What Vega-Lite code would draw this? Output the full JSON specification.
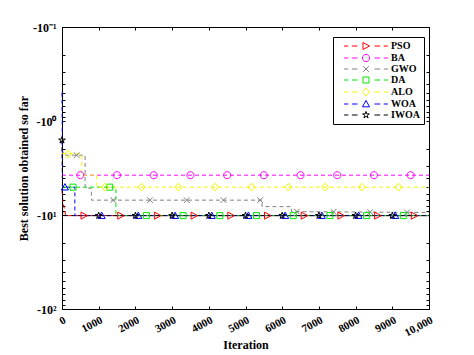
{
  "$schema": "https://vega.github.io/schema/vega-lite/v6.json",
  "width": 367,
  "height": 282,
  "autosize": {"type": "none"},
  "padding": {"left": 62, "top": 27, "right": 45, "bottom": 46},
  "background": "white",
  "config": {
    "view": {"stroke": "black", "strokeWidth": 1},
    "font": "Liberation Serif",
    "axis": {
      "domainColor": "black", "tickColor": "black", "labelColor": "black", "titleColor": "black",
      "labelFont": "Liberation Serif", "titleFont": "Liberation Serif",
      "labelFontWeight": "bold", "titleFontWeight": "bold", "grid": false, "tickWidth": 1, "domainWidth": 1
    }
  },
  "datasets": {
    "lines": [
      {"a": "PSO", "t": 0, "v": -5.5, "k": 1},
      {"a": "PSO", "t": 20, "v": -7.0, "k": 2},
      {"a": "PSO", "t": 100, "v": -10.1532, "k": 3},
      {"a": "PSO", "t": 10000, "v": -10.1532, "k": 4},
      {"a": "BA", "t": 0, "v": -3.77, "k": 5},
      {"a": "BA", "t": 10000, "v": -3.77, "k": 6},
      {"a": "GWO", "t": 0, "v": -2.0, "k": 7},
      {"a": "GWO", "t": 60, "v": -2.31, "k": 8},
      {"a": "GWO", "t": 630, "v": -2.31, "k": 9},
      {"a": "GWO", "t": 630, "v": -5.17, "k": 10},
      {"a": "GWO", "t": 800, "v": -5.17, "k": 11},
      {"a": "GWO", "t": 800, "v": -6.95, "k": 12},
      {"a": "GWO", "t": 5450, "v": -6.95, "k": 13},
      {"a": "GWO", "t": 5450, "v": -8.15, "k": 14},
      {"a": "GWO", "t": 6250, "v": -8.15, "k": 15},
      {"a": "GWO", "t": 6250, "v": -9.2, "k": 16},
      {"a": "GWO", "t": 10000, "v": -9.4, "k": 17},
      {"a": "DA", "t": 0, "v": -5.0552, "k": 18},
      {"a": "DA", "t": 1470, "v": -5.0552, "k": 19},
      {"a": "DA", "t": 1470, "v": -10.1532, "k": 20},
      {"a": "DA", "t": 10000, "v": -10.1532, "k": 21},
      {"a": "ALO", "t": 0, "v": -2.2, "k": 22},
      {"a": "ALO", "t": 540, "v": -2.25, "k": 23},
      {"a": "ALO", "t": 540, "v": -3.77, "k": 24},
      {"a": "ALO", "t": 950, "v": -3.77, "k": 25},
      {"a": "ALO", "t": 950, "v": -5.0552, "k": 26},
      {"a": "ALO", "t": 10000, "v": -5.0552, "k": 27},
      {"a": "WOA", "t": 0, "v": -0.5, "k": 28},
      {"a": "WOA", "t": 15, "v": -5.0552, "k": 29},
      {"a": "WOA", "t": 350, "v": -5.0552, "k": 30},
      {"a": "WOA", "t": 350, "v": -10.1532, "k": 31},
      {"a": "WOA", "t": 10000, "v": -10.1532, "k": 32},
      {"a": "IWOA", "t": 0, "v": -1.6, "k": 33},
      {"a": "IWOA", "t": 20, "v": -10.1532, "k": 34},
      {"a": "IWOA", "t": 10000, "v": -10.1532, "k": 35}
    ],
    "marks": [
      {"a": "PSO", "t": 600, "v": -10.1532}, {"a": "PSO", "t": 1600, "v": -10.1532}, {"a": "PSO", "t": 2600, "v": -10.1532},
      {"a": "PSO", "t": 3600, "v": -10.1532}, {"a": "PSO", "t": 4600, "v": -10.1532}, {"a": "PSO", "t": 5600, "v": -10.1532},
      {"a": "PSO", "t": 6600, "v": -10.1532}, {"a": "PSO", "t": 7600, "v": -10.1532}, {"a": "PSO", "t": 8600, "v": -10.1532},
      {"a": "PSO", "t": 9600, "v": -10.1532},
      {"a": "BA", "t": 500, "v": -3.77}, {"a": "BA", "t": 1500, "v": -3.77}, {"a": "BA", "t": 2500, "v": -3.77},
      {"a": "BA", "t": 3500, "v": -3.77}, {"a": "BA", "t": 4500, "v": -3.77}, {"a": "BA", "t": 5500, "v": -3.77},
      {"a": "BA", "t": 6500, "v": -3.77}, {"a": "BA", "t": 7500, "v": -3.77}, {"a": "BA", "t": 8500, "v": -3.77},
      {"a": "BA", "t": 9500, "v": -3.77},
      {"a": "GWO", "t": 400, "v": -2.31}, {"a": "GWO", "t": 1400, "v": -6.95}, {"a": "GWO", "t": 2400, "v": -6.95},
      {"a": "GWO", "t": 3400, "v": -6.95}, {"a": "GWO", "t": 4400, "v": -6.95}, {"a": "GWO", "t": 5400, "v": -6.95},
      {"a": "GWO", "t": 6400, "v": -9.21}, {"a": "GWO", "t": 7400, "v": -9.26}, {"a": "GWO", "t": 8400, "v": -9.31},
      {"a": "GWO", "t": 9400, "v": -9.37},
      {"a": "DA", "t": 300, "v": -5.0552}, {"a": "DA", "t": 1300, "v": -5.0552}, {"a": "DA", "t": 2300, "v": -10.1532},
      {"a": "DA", "t": 3300, "v": -10.1532}, {"a": "DA", "t": 4300, "v": -10.1532}, {"a": "DA", "t": 5300, "v": -10.1532},
      {"a": "DA", "t": 6300, "v": -10.1532}, {"a": "DA", "t": 7300, "v": -10.1532}, {"a": "DA", "t": 8300, "v": -10.1532},
      {"a": "DA", "t": 9300, "v": -10.1532},
      {"a": "ALO", "t": 170, "v": -2.25}, {"a": "ALO", "t": 1170, "v": -5.0552}, {"a": "ALO", "t": 2170, "v": -5.0552},
      {"a": "ALO", "t": 3170, "v": -5.0552}, {"a": "ALO", "t": 4170, "v": -5.0552}, {"a": "ALO", "t": 5170, "v": -5.0552},
      {"a": "ALO", "t": 6170, "v": -5.0552}, {"a": "ALO", "t": 7170, "v": -5.0552}, {"a": "ALO", "t": 8170, "v": -5.0552},
      {"a": "ALO", "t": 9170, "v": -5.0552},
      {"a": "WOA", "t": 80, "v": -5.0552}, {"a": "WOA", "t": 1080, "v": -10.1532}, {"a": "WOA", "t": 2080, "v": -10.1532},
      {"a": "WOA", "t": 3080, "v": -10.1532}, {"a": "WOA", "t": 4080, "v": -10.1532}, {"a": "WOA", "t": 5080, "v": -10.1532},
      {"a": "WOA", "t": 6080, "v": -10.1532}, {"a": "WOA", "t": 7080, "v": -10.1532}, {"a": "WOA", "t": 8080, "v": -10.1532},
      {"a": "WOA", "t": 9080, "v": -10.1532},
      {"a": "IWOA", "t": 0, "v": -1.6}, {"a": "IWOA", "t": 1000, "v": -10.1532}, {"a": "IWOA", "t": 2000, "v": -10.1532},
      {"a": "IWOA", "t": 3000, "v": -10.1532}, {"a": "IWOA", "t": 4000, "v": -10.1532}, {"a": "IWOA", "t": 5000, "v": -10.1532},
      {"a": "IWOA", "t": 6000, "v": -10.1532}, {"a": "IWOA", "t": 7000, "v": -10.1532}, {"a": "IWOA", "t": 8000, "v": -10.1532},
      {"a": "IWOA", "t": 9000, "v": -10.1532}
    ]
  },
  "resolve": {
    "scale": {"color": "independent", "shape": "independent"},
    "axis": {"x": "independent", "y": "independent"}
  },
  "layer": [
    {
      "data": {"name": "lines"},
      "mark": {"type": "line", "strokeDash": [4, 3], "strokeWidth": 1},
      "encoding": {
        "x": {
          "field": "t", "type": "quantitative",
          "scale": {"domain": [0, 10000], "nice": false},
          "axis": {
            "orient": "bottom", "values": [0, 1000, 2000, 3000, 4000, 5000, 6000, 7000, 8000, 9000, 10000],
            "labelExpr": "datum.value == 10000 ? '10,000' : format(datum.value, 'd')",
            "labelAngle": -28, "labelAlign": "right", "labelBaseline": "top", "labelDx": 4,
            "labelFontSize": 11, "tickSize": -3, "labelPadding": 8,
            "title": "Iteration", "titleFontSize": 12, "titlePadding": 2
          }
        },
        "y": {
          "field": "v", "type": "quantitative",
          "scale": {"type": "log", "domain": [-100, -0.1], "nice": false},
          "axis": {
            "orient": "left",
            "values": [-100, -90, -80, -70, -60, -50, -40, -30, -20, -10, -9, -8, -7, -6, -5, -4, -3, -2, -1, -0.9, -0.8, -0.7, -0.6, -0.5, -0.4, -0.3, -0.2, -0.1],
            "labelExpr": "datum.value == -100 ? '-10²' : datum.value == -10 ? '-10¹' : datum.value == -1 ? '-10⁰' : datum.value == -0.1 ? '-10⁻¹' : ''",
            "labelFontSize": 12, "tickSize": -3, "labelPadding": 9,
            "title": "Best solution obtained so far", "titleFontSize": 12, "titlePadding": 2
          }
        },
        "color": {
          "field": "a", "type": "nominal",
          "scale": {"domain": ["PSO", "BA", "GWO", "DA", "ALO", "WOA", "IWOA"],
                    "range": ["#FF0000", "#FF00FF", "#808080", "#00E600", "#F5F500", "#0000FF", "#000000"]},
          "legend": null
        },
        "order": {"field": "k", "type": "quantitative"}
      }
    },
    {
      "data": {"name": "marks"},
      "mark": {"type": "point", "filled": false, "size": 50, "strokeWidth": 1, "opacity": 1},
      "encoding": {
        "x": {
          "field": "t", "type": "quantitative",
          "axis": {"orient": "top", "values": [0, 1000, 2000, 3000, 4000, 5000, 6000, 7000, 8000, 9000, 10000], "labels": false, "tickSize": -3, "title": null}
        },
        "y": {
          "field": "v", "type": "quantitative",
          "axis": {
            "orient": "right",
            "values": [-100, -90, -80, -70, -60, -50, -40, -30, -20, -10, -9, -8, -7, -6, -5, -4, -3, -2, -1, -0.9, -0.8, -0.7, -0.6, -0.5, -0.4, -0.3, -0.2, -0.1],
            "labels": false, "tickSize": -3, "title": null
          }
        },
        "color": {
          "field": "a", "type": "nominal",
          "scale": {"domain": ["PSO", "BA", "GWO", "DA", "ALO", "WOA", "IWOA"],
                    "range": ["#FF0000", "#FF00FF", "#808080", "#00E600", "#F5F500", "#0000FF", "#000000"]},
          "legend": null
        },
        "shape": {
          "field": "a", "type": "nominal",
          "scale": {"domain": ["PSO", "BA", "GWO", "DA", "ALO", "WOA", "IWOA"],
                    "range": [
                      "M-0.85,-1L1,0L-0.85,1Z",
                      "M1,0A1,1,0,1,1,-1,0A1,1,0,1,1,1,0Z",
                      "M-0.8,-0.8L0.8,0.8M-0.8,0.8L0.8,-0.8",
                      "M-0.85,-0.85H0.85V0.85H-0.85Z",
                      "M0,-1.1L1,0L0,1.1L-1,0Z",
                      "M0,-1L1,0.8H-1Z",
                      "M0,-1L0.2234,-0.3074L0.9511,-0.309L0.3614,0.1174L0.5878,0.809L0,0.38L-0.5878,0.809L-0.3614,0.1174L-0.9511,-0.309L-0.2234,-0.3074Z"
                    ]},
          "legend": null
        }
      }
    },
    {
      "data": {"name": "marks"},
      "mark": {"type": "point", "filled": false, "size": 50, "strokeWidth": 1, "opacity": 0},
      "encoding": {
        "x": {"field": "t", "type": "quantitative", "axis": null},
        "y": {"field": "v", "type": "quantitative", "axis": null},
        "color": {
          "field": "a", "type": "nominal",
          "scale": {"domain": ["PSO", "BA", "GWO", "DA", "ALO", "WOA", "IWOA"],
                    "range": ["#FF0000", "#FF00FF", "#808080", "#00E600", "#F5F500", "#0000FF", "#000000"]},
          "legend": {
            "orient": "none", "legendX": 271, "legendY": 10, "title": null,
            "strokeColor": "black", "fillColor": "white", "padding": 4,
            "symbolSize": 50, "symbolStrokeWidth": 1, "symbolOffset": 24, "symbolOpacity": 1,
            "labelOffset": 20, "labelFont": "Liberation Serif", "labelFontWeight": "bold", "labelFontSize": 10,
            "labelColor": "black", "rowPadding": 0
          }
        },
        "shape": {
          "field": "a", "type": "nominal",
          "scale": {"domain": ["PSO", "BA", "GWO", "DA", "ALO", "WOA", "IWOA"],
                    "range": [
                      "M-6.2,0H-5M-4,0H-2.4M2.4,0H4M5,0H6.2M-0.85,-1L1,0L-0.85,1Z",
                      "M-6.2,0H-5M-4,0H-2.4M2.4,0H4M5,0H6.2M1,0A1,1,0,1,1,-1,0A1,1,0,1,1,1,0Z",
                      "M-6.2,0H-5M-4,0H-2.4M2.4,0H4M5,0H6.2M-0.8,-0.8L0.8,0.8M-0.8,0.8L0.8,-0.8",
                      "M-6.2,0H-5M-4,0H-2.4M2.4,0H4M5,0H6.2M-0.85,-0.85H0.85V0.85H-0.85Z",
                      "M-6.2,0H-5M-4,0H-2.4M2.4,0H4M5,0H6.2M0,-1.1L1,0L0,1.1L-1,0Z",
                      "M-6.2,0H-5M-4,0H-2.4M2.4,0H4M5,0H6.2M0,-1L1,0.8H-1Z",
                      "M-6.2,0H-5M-4,0H-2.4M2.4,0H4M5,0H6.2M0,-1L0.2234,-0.3074L0.9511,-0.309L0.3614,0.1174L0.5878,0.809L0,0.38L-0.5878,0.809L-0.3614,0.1174L-0.9511,-0.309L-0.2234,-0.3074Z"
                    ]}
        }
      }
    }
  ]
}
